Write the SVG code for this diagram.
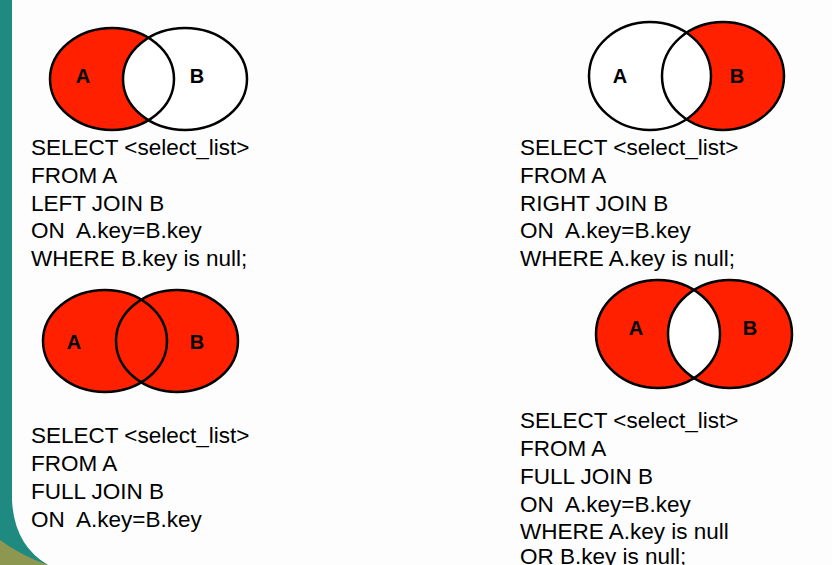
<svg xmlns="http://www.w3.org/2000/svg" width="832" height="565" viewBox="0 0 832 565">
<style>
.t{font-family:"Liberation Sans",Arial,sans-serif;font-size:22.5px;fill:#000;white-space:pre}
.l{font-family:"Liberation Sans",Arial,sans-serif;font-size:20px;font-weight:bold;fill:#000;text-anchor:middle}
.r{fill:#ff2000}
.w{fill:#fff;stroke:#000;stroke-width:2.5}
.s{fill:none;stroke:#000;stroke-width:2.5}
</style>
<defs>
<clipPath id="c4"><ellipse cx="658" cy="334" rx="62" ry="54"/></clipPath>
</defs>
<rect width="832" height="565" fill="#fdfdfd"/>
<path d="M0 0H12V500Q14 545 48 565H0Z" fill="#1f8a80"/>
<path d="M0 540Q20 555 48 565H0Z" fill="#d8a030" opacity="0.6"/>

<g id="left-join">
<ellipse class="r" cx="112" cy="79" rx="62" ry="51"/>
<ellipse class="w" cx="185" cy="79" rx="62" ry="51"/>
<ellipse class="s" cx="112" cy="79" rx="62" ry="51"/>
<text class="l" x="83" y="83">A</text><text class="l" x="197" y="83">B</text>
<text class="t" x="31" y="155" xml:space="preserve">SELECT &lt;select_list&gt;</text>
<text class="t" x="31" y="183">FROM A</text>
<text class="t" x="31" y="211">LEFT JOIN B</text>
<text class="t" x="31" y="238" xml:space="preserve">ON  A.key=B.key</text>
<text class="t" x="31" y="266">WHERE B.key is null;</text>
</g>

<g id="right-join">
<ellipse class="r" cx="723" cy="76" rx="61" ry="54"/>
<ellipse class="w" cx="650" cy="76" rx="61" ry="54"/>
<ellipse class="s" cx="723" cy="76" rx="61" ry="54"/>
<text class="l" x="620" y="83">A</text><text class="l" x="737" y="83">B</text>
<text class="t" x="520" y="155" xml:space="preserve">SELECT &lt;select_list&gt;</text>
<text class="t" x="520" y="183">FROM A</text>
<text class="t" x="520" y="211">RIGHT JOIN B</text>
<text class="t" x="520" y="238" xml:space="preserve">ON  A.key=B.key</text>
<text class="t" x="520" y="266">WHERE A.key is null;</text>
</g>

<g id="full-join">
<ellipse class="r" cx="105" cy="341" rx="62" ry="51"/>
<ellipse class="r" cx="177" cy="341" rx="61" ry="51"/>
<ellipse class="s" cx="105" cy="341" rx="62" ry="51"/>
<ellipse class="s" cx="177" cy="341" rx="61" ry="51"/>
<text class="l" x="74" y="349">A</text><text class="l" x="197" y="349">B</text>
<text class="t" x="31" y="443" xml:space="preserve">SELECT &lt;select_list&gt;</text>
<text class="t" x="31" y="471">FROM A</text>
<text class="t" x="31" y="499">FULL JOIN B</text>
<text class="t" x="31" y="527" xml:space="preserve">ON  A.key=B.key</text>
</g>

<g id="full-join-excl">
<ellipse class="r" cx="658" cy="334" rx="62" ry="54"/>
<ellipse class="r" cx="730" cy="334" rx="62" ry="54"/>
<ellipse fill="#fff" cx="730" cy="334" rx="62" ry="54" clip-path="url(#c4)"/>
<ellipse class="s" cx="658" cy="334" rx="62" ry="54"/>
<ellipse class="s" cx="730" cy="334" rx="62" ry="54"/>
<text class="l" x="636" y="335">A</text><text class="l" x="750" y="335">B</text>
<text class="t" x="520" y="428" xml:space="preserve">SELECT &lt;select_list&gt;</text>
<text class="t" x="520" y="456">FROM A</text>
<text class="t" x="520" y="484">FULL JOIN B</text>
<text class="t" x="520" y="512" xml:space="preserve">ON  A.key=B.key</text>
<text class="t" x="520" y="539">WHERE A.key is null</text>
<text class="t" x="520" y="564">OR B.key is null;</text>
</g>
<g id="connectors"/>
</svg>
